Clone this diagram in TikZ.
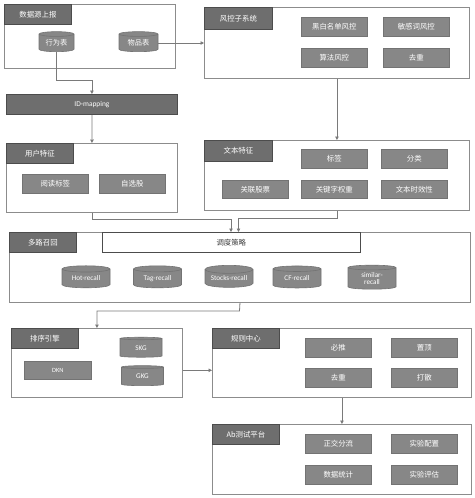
\documentclass[tikz,border=0pt]{standalone}
\usepackage{fontspec}
\setmainfont{Carlito}
\newfontfamily\cjk{Noto Sans CJK SC}
\usetikzlibrary{positioning, arrows.meta, shapes.geometric}
\definecolor{tabgray}{HTML}{6E6E6E}
\definecolor{itemgray}{HTML}{878787}
\definecolor{edgegray}{HTML}{8C8C8C}
\definecolor{linegray}{HTML}{7A7A7A}

\tikzset{
  outerbox/.style={draw=edgegray, line width=0.9pt, fill=white, anchor=north west, inner sep=0pt},
  tabbox/.style={draw=black!70, fill=tabgray, line width=0.8pt, text=white, anchor=north west,
    inner sep=0pt, font=\cjk\fontsize{7.4}{8}\selectfont},
  itembox/.style={draw=black!55, fill=itemgray, line width=0.6pt, text=white, anchor=north west,
    inner sep=0pt, minimum width=66pt, minimum height=19pt, font=\cjk\fontsize{7.4}{8}\selectfont},
  drum/.style={cylinder, shape border rotate=90, aspect=0.22, draw=black!55, fill=itemgray,
    line width=0.6pt, text=white, inner sep=0pt, minimum width=48pt, minimum height=22pt,
    align=center, font=\fontsize{7.2}{7.8}\selectfont},
  conn/.style={draw=linegray, line width=0.8pt},
  arr/.style={conn, -{Triangle[length=3.5pt, width=3.5pt]}}
}

\begin{document}
\begin{tikzpicture}[x=1pt, y=-1pt]
  \useasboundingbox (0,0) rectangle (474,498);

  % data source
  \node[outerbox, minimum width=171pt, minimum height=64pt] (src) at (4,4) {};
  \node[tabbox, minimum width=67pt, minimum height=20pt] (srctab) at (4,4) {数据源上报};
  \node[drum, font=\cjk\fontsize{7.2}{8}\selectfont, minimum width=35pt, minimum height=20pt] (beh) at (56.5,43) {行为表};
  \node[drum, font=\cjk\fontsize{7.2}{8}\selectfont, minimum width=39pt, minimum height=20pt] (item) at (138.5,43) {物品表};

  % risk control
  \node[outerbox, minimum width=265pt, minimum height=71pt] (risk) at (204,7) {};
  \node[tabbox, minimum width=68pt, minimum height=22pt] (risktab) at (204,7) {风控子系统};
  \node[itembox] (bw) at (301,17) {黑白名单风控};
  \node[itembox] (sens) at (383,17) {敏感词风控};
  \node[itembox] (algo) at (301,48) {算法风控};
  \node[itembox] (dedup) at (383,48) {去重};

  % id mapping
  \node[tabbox, minimum width=171pt, minimum height=20pt, font=\fontsize{7.4}{8}\selectfont] (idm) at (6,94) {ID-mapping};

  % user features
  \node[outerbox, minimum width=171pt, minimum height=69pt] (user) at (6,143) {};
  \node[tabbox, minimum width=67pt, minimum height=20pt] (usertab) at (6,143) {用户特征};
  \node[itembox] (read) at (22,174) {阅读标签};
  \node[itembox] (stock) at (99,174) {自选股};

  % text features
  \node[outerbox, minimum width=265pt, minimum height=70pt] (text) at (204,140) {};
  \node[tabbox, minimum width=68pt, minimum height=21pt] (texttab) at (204,140) {文本特征};
  \node[itembox] (tag) at (301,149) {标签};
  \node[itembox] (cls) at (381,149) {分类};
  \node[itembox, minimum height=18pt] (rel) at (222,180) {关联股票};
  \node[itembox, minimum height=18pt] (kw) at (301,180) {关键字权重};
  \node[itembox, minimum height=18pt] (fresh) at (381,180) {文本时效性};

  % multi recall
  \node[outerbox, minimum width=461pt, minimum height=70pt] (recall) at (9,232) {};
  \node[tabbox, minimum width=67pt, minimum height=20pt] (recalltab) at (9,232) {多路召回};
  \node[outerbox, draw=black!70, line width=0.6pt, minimum width=258pt, minimum height=20pt,
        text=black!75, font=\cjk\fontsize{7.4}{8}\selectfont] (sched) at (102,232) {调度策略};
  \node[drum] (hot) at (86,278.5) {Hot-recall};
  \node[drum] (tagr) at (157.5,278.5) {Tag-recall};
  \node[drum] (stkr) at (229,278.5) {Stocks-recall};
  \node[drum] (cfr) at (297,278.5) {CF-recall};
  \node[drum, minimum height=24pt] (simr) at (372,278.5) {similar-\\[-1pt]recall};

  % ranking
  \node[outerbox, minimum width=171pt, minimum height=69pt] (rank) at (11,328) {};
  \node[tabbox, minimum width=67pt, minimum height=20pt] (ranktab) at (11,328) {排序引擎};
  \node[itembox, minimum width=67pt, minimum height=18pt, font=\fontsize{6.4}{7}\selectfont] (dkn) at (24,361) {DKN};
  \node[drum, minimum width=42pt, minimum height=20pt] (skg) at (141,348) {SKG};
  \node[drum, minimum width=42pt, minimum height=20pt] (gkg) at (142.5,376.5) {GKG};

  % rule center
  \node[outerbox, minimum width=259pt, minimum height=69pt] (rule) at (212,328) {};
  \node[tabbox, minimum width=67pt, minimum height=20pt] (ruletab) at (212,328) {规则中心};
  \node[itembox] (must) at (305,338) {必推};
  \node[itembox] (top) at (391,338) {置顶};
  \node[itembox] (dedup2) at (305,368) {去重};
  \node[itembox] (scat) at (391,368) {打散};

  % ab test
  \node[outerbox, minimum width=259pt, minimum height=70pt] (ab) at (212,424) {};
  \node[tabbox, minimum width=67pt, minimum height=20pt] (abtab) at (212,424) {Ab测试平台};
  \node[itembox] (orth) at (305,434) {正交分流};
  \node[itembox] (conf) at (391,434) {实验配置};
  \node[itembox] (stat) at (305,465) {数据统计};
  \node[itembox] (eval) at (391,465) {实验评估};

  % connectors
  \coordinate (k1) at (56.5,80);
  \coordinate (k3) at (231,219);
  \coordinate (k5) at (238.5,218);
  \coordinate (k6) at (239.5,311);
  \draw[arr] (beh.south) -- (k1) -| (idm.north);
  \draw[arr] (item.east) -- (risk.west |- item.east);
  \draw[arr] (idm.south) -- (user.north);
  \draw[arr] (risk.south) -- (text.north);
  \draw[arr] (user.south) |- (k3) -- (k3 |- sched.north);
  \draw[arr] (text.south) |- (k5) -- (k5 |- sched.north);
  \draw[arr] (recall.south) -- (k6) -| (rank.north);
  \draw[arr] (rank.east |- dkn.east) -- (rule.west |- dkn.east);
  \draw[arr] (rule.south) -- (ab.north);
\end{tikzpicture}
\end{document}
